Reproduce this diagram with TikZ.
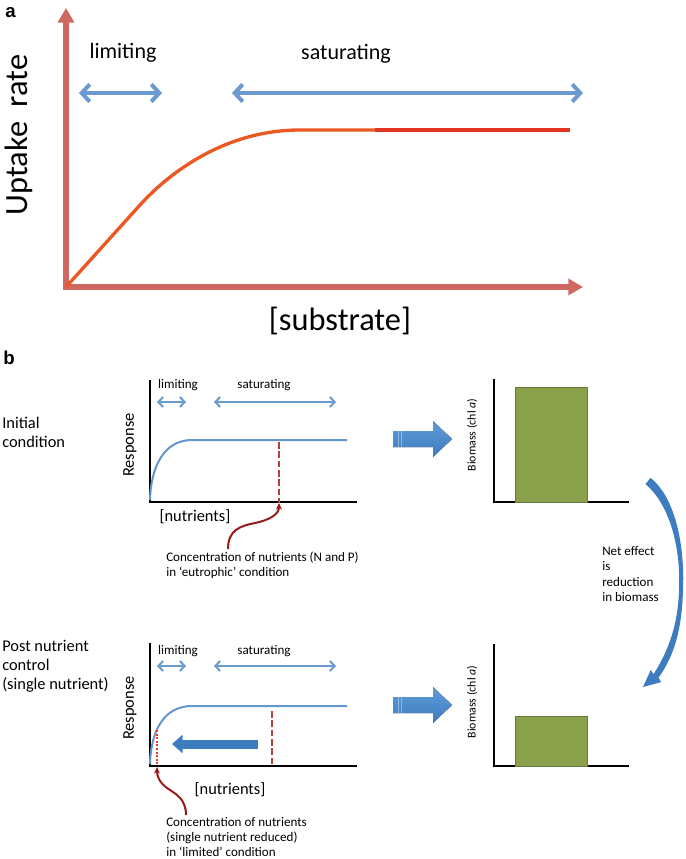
\documentclass[tikz,border=0pt]{standalone}
\usepackage{fontspec}
\setmainfont{Carlito}
\newfontfamily\panelfont{Liberation Sans}
\usetikzlibrary{arrows.meta}

\definecolor{axisred}{RGB}{208,104,98}
\definecolor{uptakeorange}{RGB}{236,88,34}
\definecolor{uptakered}{RGB}{226,54,36}
\definecolor{rangeblue}{RGB}{106,154,208}
\definecolor{respblue}{RGB}{100,150,206}
\definecolor{pointerred}{RGB}{150,28,24}
\definecolor{dashred}{RGB}{176,66,58}
\definecolor{dotred}{RGB}{236,60,40}
\definecolor{shiftblue}{RGB}{62,124,192}
\definecolor{shiftlight}{RGB}{96,156,216}
\definecolor{biomassgreen}{RGB}{138,160,74}
\definecolor{biomassedge}{RGB}{104,122,60}

\tikzset{
  bigaxis/.style={axisred,line width=4.5pt,line cap=rect,-{Triangle[length=11pt,width=12pt]}},
  uptake/.style={uptakeorange,line width=2.5pt},
  bigrange/.style={rangeblue,line width=3pt,{Straight Barb[length=6pt,width=13pt]}-{Straight Barb[length=6pt,width=13pt]}},
  smallaxis/.style={black,line width=1.6pt},
  response/.style={respblue,line width=1.5pt},
  smallrange/.style={rangeblue,line width=1.5pt,{Straight Barb[length=3.5pt,width=7.5pt]}-{Straight Barb[length=3.5pt,width=7.5pt]}},
  level/.style={dashred,line width=1.5pt,dash pattern=on 5pt off 2pt},
  pointer/.style={pointerred,line width=1.5pt,-{Stealth[length=5pt,width=4.5pt]}},
  bar/.style={fill=biomassgreen,draw=biomassedge,line width=0.6pt},
  biglab/.style={font=\fontsize{24.3}{28}\selectfont,inner sep=0pt},
  rangelab/.style={font=\fontsize{16.5}{19}\selectfont,inner sep=0pt},
  lab/.style={font=\fontsize{9.8}{11}\selectfont,inner sep=0pt},
  mid/.style={font=\fontsize{12.3}{14.3}\selectfont,inner sep=0pt,align=left},
  note/.style={font=\fontsize{9.8}{11}\selectfont,inner sep=0pt,align=left},
  panel/.style={font=\panelfont\bfseries\fontsize{14}{16}\selectfont,inner sep=0pt},
}

\begin{document}
\begin{tikzpicture}[x=0.75pt,y=-0.75pt]
\useasboundingbox (0,0) rectangle (685,859);

% panel a
\node[panel,anchor=west] (a) at (5,13) {a};
\coordinate (O) at (66,287);
\coordinate (Ytip) at (66,8);
\coordinate (Xtip) at (583,287);
\draw[bigaxis] (O) -- (Ytip);
\draw[bigaxis] (O) -- (Xtip);
\draw[uptake] (O) -- (140,205) .. controls (158,185) and (215,130) .. (300,130) -- (376,130);
\draw[uptake,uptakered] (375,130) -- (570,130);
\draw[bigrange] (79,93) -- (162,93);
\draw[bigrange] (232,93) -- (583,93);
\node[rangelab,anchor=base] (lim) at (123,59) {limiting};
\node[rangelab,anchor=base] (sat) at (346,60) {saturating};
\node[biglab,rotate=90] (rate) at (19,135) {Uptake\ \ rate};
\node[biglab] (subs) at (340,321) {[substrate]};

% panel b
\node[panel,anchor=west] (b) at (3,358) {b};
\node[mid,anchor=west] (init) at (2,432) {Initial\\condition};
\node[mid,anchor=west] (post) at (2,666) {Post nutrient\\control\\(single nutrient)};

% initial condition
\draw[smallaxis] (150,380) -- (150,502) -- (357,502);
\draw[response] (150,500) .. controls (151,465) and (165,440) .. (192,440) -- (347,440);
\draw[smallrange] (157,402) -- (186,402);
\draw[smallrange] (214,402) -- (336,402);
\node[lab] (limA) at (178,385) {limiting};
\node[lab] (satA) at (264,385) {saturating};
\node[mid,rotate=90] (respA) at (130,445) {Response};
\node[mid] (nutA) at (195,517) {[nutrients]};
\coordinate (E) at (279,503);
\draw[level] (279,442) -- (E);
\node[note,anchor=west] (noteA) at (166,565) {Concentration of nutrients (N and P)\\in `eutrophic' condition};
\draw[pointer] (228,549) .. controls (228,530) and (240,526) .. (255,523) .. controls (270,520) and (279,514) .. (E);

% post nutrient control
\draw[smallaxis] (150,643) -- (150,766) -- (357,766);
\draw[response] (150,764) .. controls (151,729) and (165,706) .. (192,706) -- (347,706);
\draw[smallrange] (157,666) -- (186,666);
\draw[smallrange] (214,666) -- (336,666);
\node[lab] (limB) at (178,651) {limiting};
\node[lab] (satB) at (264,651) {saturating};
\node[mid,rotate=90] (respB) at (130,708) {Response};
\node[mid] (nutB) at (230,790) {[nutrients]};
\draw[level] (272,711) -- (272,766);
\coordinate (L) at (157,767);
\draw[dotred,line width=1.5pt,dash pattern=on 1.5pt off 1.2pt] (157,730) -- (157,766);
\draw[shiftblue,line width=6.75pt,-{Triangle[length=8pt,width=13.5pt]}] (258,744) -- (172,744);
\node[note,anchor=west] (noteB) at (166,837) {Concentration of nutrients\\(single nutrient reduced)\\in `limited' condition};
\draw[pointer] (186,815) .. controls (186,799) and (176,794) .. (167,788) .. controls (159,782) and (157,776) .. (L);

% biomass
\fill[top color=shiftlight,bottom color=shiftblue] (393,431) -- (433,431) -- (433,421) -- (452,439) -- (433,457) -- (433,447) -- (393,447) -- cycle;
\draw[white,opacity=0.35,line width=0.6pt] (398,431) -- (398,447) (401,431) -- (401,447);
\draw[smallaxis] (494,379) -- (494,502) -- (629,502);
\draw[bar] (515,387) rectangle (587,502);
\node[lab,font=\fontsize{8.9}{10}\selectfont,rotate=90] (bioA) at (472,435) {Biomass (chl \textit{a})};

\fill[top color=shiftlight,bottom color=shiftblue] (393,697) -- (433,697) -- (433,687) -- (452,705) -- (433,723) -- (433,713) -- (393,713) -- cycle;
\draw[white,opacity=0.35,line width=0.6pt] (398,697) -- (398,713) (401,697) -- (401,713);
\draw[smallaxis] (494,644) -- (494,766) -- (629,766);
\draw[bar] (515,716) rectangle (587,766);
\node[lab,font=\fontsize{8.9}{10}\selectfont,rotate=90] (bioB) at (472,702) {Biomass (chl \textit{a})};

% net effect
\fill[shiftblue] (650.5,477.9) .. controls (675,497) and (685,545) .. (683,590)
  .. controls (682,627) and (675,655) .. (658.5,677.7) -- (661.2,682.1) -- (643,687)
  -- (650.8,669.9) -- (653.5,674.3) .. controls (669,650) and (678,624) .. (679,590)
  .. controls (681,546) and (669,504) .. (645.5,484.1) -- cycle;
\node[note,anchor=west,font=\fontsize{9.8}{11.5}\selectfont] (net) at (602,574) {Net effect\\is\\reduction\\in biomass};
\end{tikzpicture}
\end{document}
